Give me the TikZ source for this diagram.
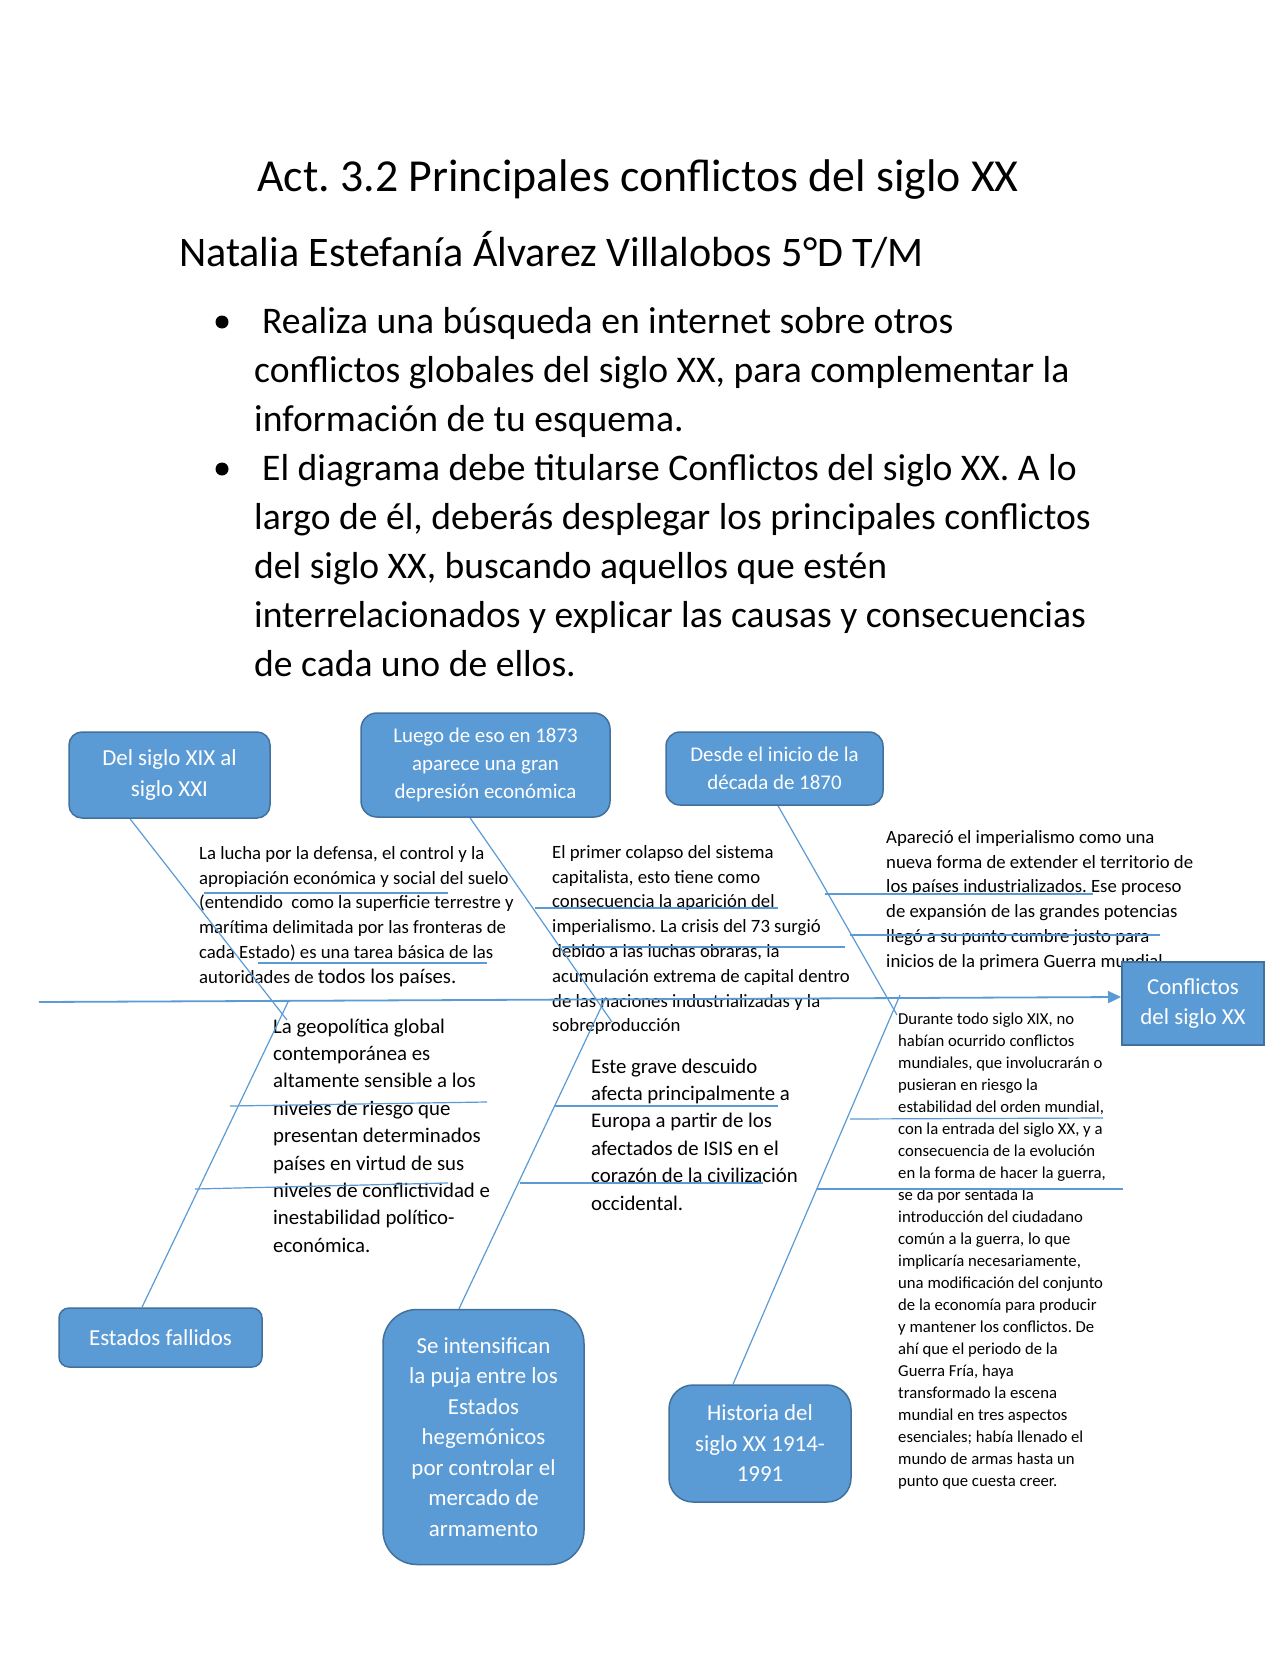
\documentclass[tikz,border=0pt]{standalone}
\usepackage{fontspec}
\setmainfont{Carlito}
\usetikzlibrary{arrows.meta}
\definecolor{boxblue}{HTML}{5B9BD5}
\definecolor{boxborder}{HTML}{41719C}
\definecolor{linec}{HTML}{5B9BD5}
\pgfdeclarelayer{bgl}
\pgfdeclarelayer{txtl}
\pgfdeclarelayer{lines}
\pgfsetlayers{bgl,txtl,lines,main}
\newcommand{\fstrut}{\rule{0pt}{0.95em}}
\frenchspacing
\begin{document}
\begin{tikzpicture}[x=1pt,y=-1pt,
  box/.style={draw=boxborder, fill=boxblue, line width=1.5pt, text=white, align=center, inner sep=0pt, font=\fontsize{22.9}{30.5}\selectfont},
  boxs/.style={box, font=\fontsize{20.9}{27.6}\selectfont},
  bone/.style={draw=linec, line width=1.2pt},
  spine/.style={draw=linec, line width=1.8pt, -{Triangle[length=13pt,width=12pt]}},
  txt/.style={anchor=base west, align=left, inner sep=0pt, text=black},
  mtxt/.style={anchor=north west, align=left, inner sep=0pt, text=black},
  txtS/.style={mtxt, font=\fontsize{18.75}{24.8}\selectfont},
  txtM/.style={mtxt, font=\fontsize{20.8}{27.4}\selectfont},
  txtT/.style={mtxt, font=\fontsize{16.7}{22}\selectfont},
  txtB/.style={mtxt, font=\fontsize{37.6}{49}\selectfont},
  dotb/.style={circle, fill=black, minimum size=13pt, inner sep=0pt}
]
\begin{pgfonlayer}{bgl}
\fill[white] (0,0) rectangle (1280,1656);
\end{pgfonlayer}
\useasboundingbox (0,0) rectangle (1280,1656);

% ---------- header ----------
\node[txt, font=\fontsize{45.8}{55}\selectfont] (title) at (257,192) {Act. 3.2 Principales conflictos del siglo XX};
\node[txt, font=\fontsize{42.1}{50}\selectfont] (author) at (179,266) {Natalia Estefanía Álvarez Villalobos 5°D T/M};
\node[dotb] (dot1) at (222,322) {};
\node[dotb] (dot2) at (222,469) {};
\node[txtB] (bul1) at (254,297.3) {\fstrut\hspace*{8pt}Realiza una búsqueda en internet sobre otros\\conflictos globales del siglo XX, para complementar la\\información de tu esquema.};
\node[txtB] (bul2) at (254,444.3) {\fstrut\hspace*{8pt}El diagrama debe titularse Conflictos del siglo XX. A lo\\largo de él, deberás desplegar los principales conflictos\\del siglo XX, buscando aquellos que estén\\interrelacionados y explicar las causas y consecuencias\\de cada uno de ellos.};

% ---------- boxes ----------
\node[box, rounded corners=13pt, minimum width=201pt, minimum height=86pt] (b1) at (169.5,775) {Del siglo XIX al\\siglo XXI};
\node[boxs, rounded corners=16pt, minimum width=249pt, minimum height=104pt] (b2) at (485.5,765) {Luego de eso en 1873\\aparece una gran\\depresión económica};
\node[boxs, rounded corners=14pt, minimum width=217pt, minimum height=73pt] (b3) at (774.5,768.5) {Desde el inicio de la\\década de 1870};
\node[box, line width=2pt, minimum width=142pt, minimum height=83pt] (b4) at (1193,1003.5) {Conflictos\\del siglo XX};
\node[box, rounded corners=10pt, minimum width=203pt, minimum height=59pt] (b5) at (160.5,1337.5) {Estados fallidos};
\node[box, rounded corners=34pt, minimum width=201pt, minimum height=255pt] (b6) at (483.5,1437) {Se intensifican\\la puja entre los\\Estados\\hegemónicos\\por controlar el\\mercado de\\armamento};
\node[box, rounded corners=24pt, minimum width=182pt, minimum height=117pt] (b7) at (760,1443.5) {Historia del\\siglo XX 1914-\\1991};

% ---------- texts ----------
\begin{pgfonlayer}{txtl}
\node[txtS] (t1) at (199,841.2) {\fstrut La lucha por la defensa, el control y la\\apropiación económica y social del suelo\\(entendido \ como la superficie terrestre y\\marítima delimitada por las fronteras de\\cada Estado) es una tarea básica de las\\autoridades de {\fontsize{20.8}{24.8}\selectfont todos los países.}};
\node[txtS] (t2) at (552,840.2) {\fstrut El primer colapso del sistema\\capitalista, esto tiene como\\consecuencia la aparición del\\imperialismo. La crisis del 73 surgió\\debido a las luchas obraras, la\\acumulación extrema de capital dentro\\de las naciones industrializadas y la\\sobreproducción};
\node[txtS] (t3) at (886,825.2) {\fstrut Apareció el imperialismo como una\\nueva forma de extender el territorio de\\los países industrializados. Ese proceso\\de expansión de las grandes potencias\\llegó a su punto cumbre justo para\\inicios de la primera Guerra mundial};
\node[txtM] (t4) at (273,1013.2) {\fstrut La geopolítica global\\contemporánea es\\altamente sensible a los\\niveles de riesgo que\\presentan determinados\\países en virtud de sus\\niveles de conflictividad e\\inestabilidad político-\\económica.};
\node[txtM] (t5) at (591,1053.2) {\fstrut Este grave descuido\\afecta principalmente a\\Europa a partir de los\\afectados de ISIS en el\\corazón de la civilización\\occidental.};
\node[txtT] (t6) at (898,1008.1) {\fstrut Durante todo siglo XIX, no\\habían ocurrido conflictos\\mundiales, que involucrarán o\\pusieran en riesgo la\\estabilidad del orden mundial,\\con la entrada del siglo XX, y a\\consecuencia de la evolución\\en la forma de hacer la guerra,\\se da por sentada la\\introducción del ciudadano\\común a la guerra, lo que\\implicaría necesariamente,\\una modificación del conjunto\\de la economía para producir\\y mantener los conflictos. De\\ahí que el periodo de la\\Guerra Fría, haya\\transformado la escena\\mundial en tres aspectos\\esenciales; había llenado el\\mundo de armas hasta un\\punto que cuesta creer.};
\end{pgfonlayer}

% ---------- coordinates ----------
\coordinate (sL) at (39,1002);
\coordinate (aE) at (287,1020);
\coordinate (bS) at (288,1002);
\coordinate (cE) at (612,1022);
\coordinate (dS) at (606,997);
\coordinate (eE) at (897,1015);
\coordinate (fS) at (900,995);
% ribs
\coordinate (r1a) at (204,893);  \coordinate (r1b) at (448,893);
\coordinate (r2a) at (258,963);  \coordinate (r2b) at (487,963);
\coordinate (r3a) at (535,908);  \coordinate (r3b) at (778,908);
\coordinate (r4a) at (562,947);  \coordinate (r4b) at (845,947);
\coordinate (r5a) at (825,894);  \coordinate (r5b) at (1093,894);
\coordinate (r6a) at (850,935);  \coordinate (r6b) at (1160,935);
\coordinate (r7a) at (230,1106); \coordinate (r7b) at (487,1102);
\coordinate (r8a) at (195,1189); \coordinate (r8b) at (448,1183);
\coordinate (r9a) at (555,1106); \coordinate (r9b) at (778,1106);
\coordinate (r10a) at (520,1183); \coordinate (r10b) at (763,1183);
\coordinate (r11a) at (850,1119); \coordinate (r11b) at (1103,1118);
\coordinate (r12a) at (817,1189); \coordinate (r12b) at (1123,1189);

% ---------- lines ----------
\begin{pgfonlayer}{lines}
\draw[spine] (sL) -- ([yshift=6.5pt]b4.west);
\draw[bone] ([xshift=-39.5pt]b1.south) -- (aE);
\draw[bone] (bS) -- ([xshift=-18.5pt]b5.north);
\draw[bone] ([xshift=-15.5pt]b2.south) -- (cE);
\draw[bone] (dS) -- ([xshift=-24.5pt]b6.north);
\draw[bone] ([xshift=3.5pt]b3.south) -- (eE);
\draw[bone] (fS) -- ([xshift=-27pt]b7.north);
\foreach \r in {1,...,12} {\draw[bone] (r\r a) -- (r\r b);}
\end{pgfonlayer}
\end{tikzpicture}
\end{document}
